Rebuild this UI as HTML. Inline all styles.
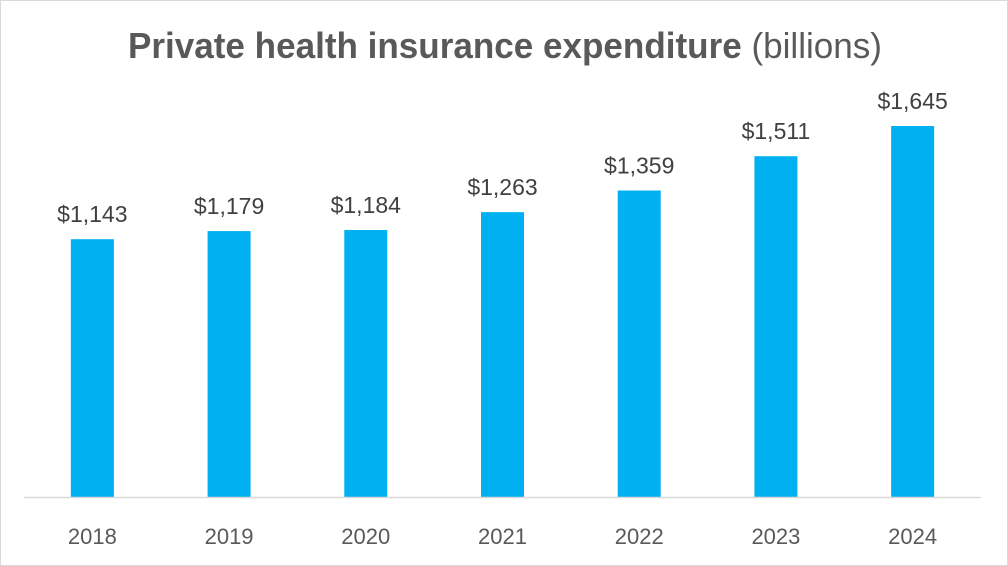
<!DOCTYPE html>
<html><head><meta charset="utf-8"><style>
html,body{margin:0;padding:0;background:#fff}
svg{display:block}
</style></head><body>
<svg id="chart" width="1008" height="566" viewBox="0 0 1008 566" xmlns="http://www.w3.org/2000/svg" font-family="Liberation Sans, sans-serif">
<rect x="0.5" y="0.5" width="1007" height="565" fill="#fff" stroke="#d9d9d9"/>
<text x="128" y="58" font-size="36" fill="#595959" textLength="754" lengthAdjust="spacingAndGlyphs"><tspan font-weight="bold">Private health insurance expenditure</tspan> (billions)</text>
<g id="bars"></g>
<line x1="24" y1="497.5" x2="981" y2="497.5" stroke="#d9d9d9" stroke-width="1.5"/>
<g id="labels"></g>
</svg>
<script>
const categories = ["2018","2019","2020","2021","2022","2023","2024"];
const values = [1143,1179,1184,1263,1359,1511,1645];
const valueLabels = ["$1,143","$1,179","$1,184","$1,263","$1,359","$1,511","$1,645"];

const NS = "http://www.w3.org/2000/svg";
const plotLeft = 24, plotRight = 981, baseY = 497, pxPerUnit = 371/1645;
const band = (plotRight - plotLeft) / categories.length;
const barW = 43;
const xCenter = i => plotLeft + band * (i + 0.5);
const yScale = v => baseY - v * pxPerUnit;
const barsG = document.getElementById("bars");
const labelsG = document.getElementById("labels");
values.forEach((v, i) => {
  const r = document.createElementNS(NS, "rect");
  
  
  r.setAttribute("x", xCenter(i) - barW / 2);
  r.setAttribute("y", yScale(v));
  r.setAttribute("width", barW);
  r.setAttribute("height", baseY - yScale(v));
  r.setAttribute("fill", "#00b0f0");
  barsG.appendChild(r);
  const t = document.createElementNS(NS, "text");
  
  
  t.setAttribute("x", xCenter(i));
  t.setAttribute("y", yScale(v) - 17);
  t.setAttribute("text-anchor", "middle");
  t.setAttribute("font-size", "23");
  t.setAttribute("fill", "#404040");
  t.textContent = valueLabels[i];
  labelsG.appendChild(t);
  const c = document.createElementNS(NS, "text");
  
  
  c.setAttribute("x", xCenter(i));
  c.setAttribute("y", 544);
  c.setAttribute("text-anchor", "middle");
  c.setAttribute("font-size", "22");
  c.setAttribute("fill", "#595959");
  c.textContent = categories[i];
  labelsG.appendChild(c);
});
</script>
</body></html>
